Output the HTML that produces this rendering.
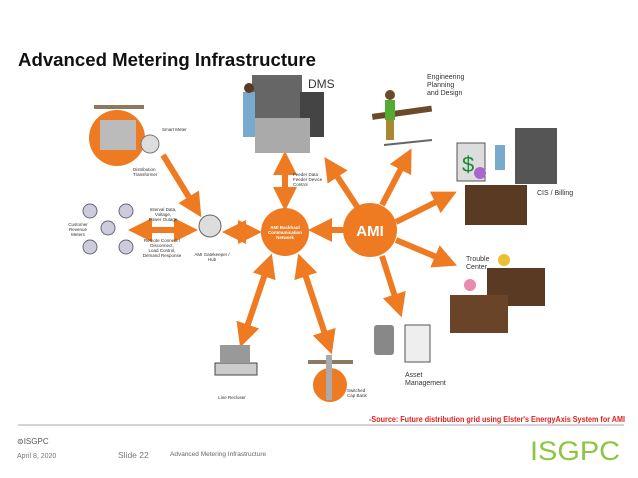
<!DOCTYPE html>
<html><head><meta charset="utf-8"><style>
html,body{margin:0;padding:0;background:#fff;}
svg{display:block;font-family:"Liberation Sans",sans-serif;}
</style></head><body>
<svg width="638" height="478" viewBox="0 0 638 478" xmlns="http://www.w3.org/2000/svg">
<defs>
<marker id="ah" markerWidth="4" markerHeight="4" refX="2" refY="2" orient="auto-start-reverse" markerUnits="strokeWidth">
<path d="M0,0 L4,2 L0,4 z" fill="#ee7a22"/></marker>
</defs>
<text x="18" y="66" font-size="18" font-weight="bold" fill="#111" textLength="298" lengthAdjust="spacingAndGlyphs">Advanced Metering Infrastructure</text>

<g stroke="#ee7a22" stroke-width="6" fill="none">
<line x1="285" y1="163" x2="285" y2="199" marker-start="url(#ah)" marker-end="url(#ah)"/>
<line x1="234" y1="232" x2="250" y2="232" marker-start="url(#ah)" marker-end="url(#ah)"/>
<line x1="140" y1="230" x2="186" y2="230" marker-start="url(#ah)" marker-end="url(#ah)"/>
<line x1="163" y1="155" x2="195" y2="207" marker-end="url(#ah)"/>
<line x1="268" y1="265" x2="244" y2="336" marker-start="url(#ah)" marker-end="url(#ah)"/>
<line x1="302" y1="265" x2="328" y2="343" marker-start="url(#ah)" marker-end="url(#ah)"/>
<line x1="345" y1="230" x2="320" y2="230" marker-end="url(#ah)"/>
<line x1="358" y1="208" x2="331" y2="167" marker-end="url(#ah)"/>
<line x1="382" y1="205" x2="406" y2="159" marker-end="url(#ah)"/>
<line x1="396" y1="222" x2="446" y2="197" marker-end="url(#ah)"/>
<line x1="396" y1="240" x2="446" y2="261" marker-end="url(#ah)"/>
<line x1="382" y1="256" x2="398" y2="306" marker-end="url(#ah)"/>
</g>
<circle cx="285" cy="232" r="24" fill="#ee7a22"/>
<text x="285" y="229" font-size="4.5" fill="#fff" font-weight="bold" text-anchor="middle">AMI Backhaul</text>
<text x="285" y="234" font-size="4.5" fill="#fff" font-weight="bold" text-anchor="middle">Communication</text>
<text x="285" y="239" font-size="4.5" fill="#fff" font-weight="bold" text-anchor="middle">Network</text>
<circle cx="370" cy="230" r="27" fill="#ee7a22"/>
<text x="370" y="236" font-size="15" fill="#fff" font-weight="bold" text-anchor="middle">AMI</text>

<!-- DMS -->
<rect x="252" y="75" width="50" height="45" fill="#666"/>
<rect x="300" y="92" width="24" height="45" fill="#444"/>
<rect x="255" y="118" width="55" height="35" fill="#aaa"/>
<rect x="243" y="92" width="12" height="45" fill="#7ac" />
<circle cx="249" cy="88" r="5" fill="#5a3a22"/>
<text x="308" y="88" font-size="12" fill="#333">DMS</text>

<!-- Engineering -->
<rect x="372" y="110" width="60" height="6" fill="#6b4a2a" transform="rotate(-8 400 113)"/>
<rect x="385" y="100" width="10" height="20" fill="#5a3"/>
<rect x="386" y="120" width="8" height="20" fill="#a83"/>
<circle cx="390" cy="95" r="5" fill="#6b4a2a"/>
<line x1="384" y1="145" x2="432" y2="140" stroke="#666" stroke-width="2"/>
<text x="427" y="79" font-size="7" fill="#333">Engineering</text>
<text x="427" y="87" font-size="7" fill="#333">Planning</text>
<text x="427" y="95" font-size="7" fill="#333">and Design</text>

<!-- CIS -->
<rect x="515" y="128" width="42" height="56" fill="#555"/>
<rect x="457" y="143" width="28" height="38" fill="#ddd" stroke="#555"/>
<text x="462" y="172" font-size="22" fill="#1a8a3a">$</text>
<rect x="465" y="185" width="62" height="40" fill="#5a3a22"/>
<rect x="495" y="145" width="10" height="25" fill="#7ac"/>
<circle cx="480" cy="173" r="6" fill="#a6c"/>
<text x="537" y="195" font-size="7" fill="#333">CIS / Billing</text>

<!-- Trouble -->
<rect x="487" y="268" width="58" height="38" fill="#5a3a22"/>
<rect x="450" y="295" width="58" height="38" fill="#6a4428"/>
<circle cx="504" cy="260" r="6" fill="#e8c030"/>
<circle cx="470" cy="285" r="6" fill="#e98ab0"/>
<text x="466" y="261" font-size="7" fill="#333">Trouble</text>
<text x="466" y="269" font-size="7" fill="#333">Center</text>

<!-- Asset -->
<rect x="374" y="325" width="20" height="30" rx="3" fill="#888"/>
<rect x="405" y="325" width="25" height="37" fill="#eee" stroke="#555"/>
<text x="405" y="377" font-size="7" fill="#333">Asset</text>
<text x="405" y="385" font-size="7" fill="#333">Management</text>

<!-- transformer & smart meter -->
<circle cx="117" cy="138" r="28" fill="#ee7a22"/>
<rect x="100" y="120" width="36" height="30" fill="#bbb"/>
<rect x="94" y="105" width="50" height="4" fill="#8a7a60"/>
<circle cx="150" cy="144" r="9" fill="#ddd" stroke="#777"/>
<text x="162" y="131" font-size="4.5" fill="#333">Smart Meter</text>
<text x="133" y="171" font-size="4.5" fill="#333">Distribution</text>
<text x="133" y="176" font-size="4.5" fill="#333">Transformer</text>

<g fill="#ccd" stroke="#667">
<circle cx="90" cy="211" r="7"/><circle cx="126" cy="211" r="7"/>
<circle cx="108" cy="228" r="7"/>
<circle cx="90" cy="247" r="7"/><circle cx="126" cy="247" r="7"/>
</g>
<text x="78" y="226" font-size="4.5" fill="#333" text-anchor="middle">Customer</text>
<text x="78" y="231" font-size="4.5" fill="#333" text-anchor="middle">Revenue</text>
<text x="78" y="236" font-size="4.5" fill="#333" text-anchor="middle">Meters</text>
<text x="163" y="211" font-size="4.5" fill="#333" text-anchor="middle">Interval Data,</text>
<text x="163" y="216" font-size="4.5" fill="#333" text-anchor="middle">Voltage,</text>
<text x="163" y="221" font-size="4.5" fill="#333" text-anchor="middle">Power Outage</text>
<text x="162" y="242" font-size="4.5" fill="#333" text-anchor="middle">Remote Connect /</text>
<text x="162" y="247" font-size="4.5" fill="#333" text-anchor="middle">Disconnect,</text>
<text x="162" y="252" font-size="4.5" fill="#333" text-anchor="middle">Load Control,</text>
<text x="162" y="257" font-size="4.5" fill="#333" text-anchor="middle">Demand Response</text>
<circle cx="210" cy="226" r="11" fill="#ddd" stroke="#666"/>
<text x="212" y="256" font-size="4.5" fill="#333" text-anchor="middle">AMI Gatekeeper /</text>
<text x="212" y="261" font-size="4.5" fill="#333" text-anchor="middle">Hub</text>
<text x="293" y="176" font-size="4.5" fill="#333">Feeder Data</text>
<text x="293" y="181" font-size="4.5" fill="#333">Feeder Device</text>
<text x="293" y="186" font-size="4.5" fill="#333">Control</text>

<rect x="215" y="363" width="42" height="12" fill="#ccc" stroke="#444"/>
<rect x="220" y="345" width="30" height="18" fill="#999"/>
<text x="232" y="399" font-size="4.5" fill="#333" text-anchor="middle">Line Recloser</text>
<circle cx="330" cy="385" r="17" fill="#ee7a22"/>
<rect x="308" y="360" width="45" height="4" fill="#8a7a60"/>
<rect x="326" y="355" width="6" height="45" fill="#aaa"/>
<text x="347" y="392" font-size="4.5" fill="#333">Switched</text>
<text x="347" y="397" font-size="4.5" fill="#333">Cap Bank</text>

<text x="369" y="422" font-size="8.5" font-weight="bold" fill="#e02020" textLength="256" lengthAdjust="spacingAndGlyphs">-Source: Future distribution grid using Elster's EnergyAxis System for AMI</text>
<line x1="18" y1="425" x2="624" y2="425" stroke="#aaa" stroke-width="1"/>
<text x="17" y="444" font-size="8" fill="#555">⊜ISGPC</text>
<text x="17" y="458" font-size="7" fill="#777">April 8, 2020</text>
<text x="118" y="458" font-size="8.5" fill="#777">Slide 22</text>
<text x="170" y="456" font-size="6.5" fill="#666">Advanced Metering Infrastructure</text>
<text x="530" y="460" font-size="27" fill="#8cc63f" textLength="90" lengthAdjust="spacingAndGlyphs">ISGPC</text>
</svg>
</body></html>
